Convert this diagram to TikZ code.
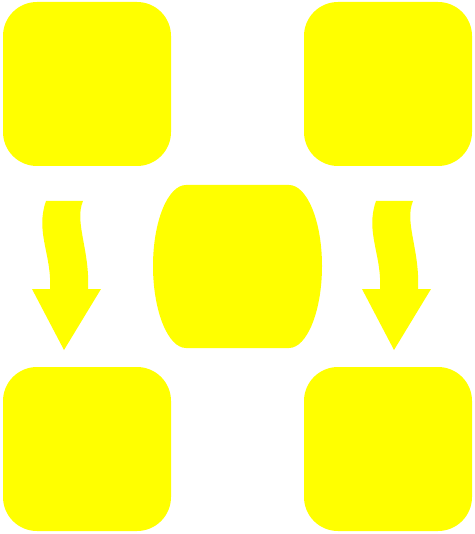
\documentclass[tikz,border=0pt]{standalone}
\definecolor{yel}{RGB}{255,255,0}
\begin{document}
\begin{tikzpicture}[x=1pt,y=-1pt,
  box/.style={fill=yel, draw=none, rounded corners=34pt, minimum width=168pt, minimum height=164pt, inner sep=0pt, outer sep=0pt},
  shapefill/.style={fill=yel, draw=none}]
\useasboundingbox (0,0) rectangle (474,534);
\node[box] (tl) at (87,84) {};
\node[box] (tr) at (388,84) {};
\node[box] (bl) at (87,449) {};
\node[box] (br) at (388,449) {};
% barrel
\fill[shapefill] (186,185) -- (289,185)
  .. controls (307,185) and (322,221) .. (322,266)
  .. controls (322,311) and (307,348) .. (289,348)
  -- (186,348)
  .. controls (168,348) and (153,311) .. (153,266)
  .. controls (153,221) and (168,185) .. (186,185) -- cycle;
% wavy arrows
\foreach \dx/\nm in {0/la,330/ra}{
\begin{scope}[xshift=\dx]
\fill[shapefill] (46,201) -- (83,201)
  .. controls (74,222) and (90,250) .. (88,289)
  -- (101,289) -- (64,350) -- (32,289) -- (50,289)
  .. controls (52,255) and (35,232) .. (46,201) -- cycle;
\end{scope}}
\end{tikzpicture}
\end{document}
